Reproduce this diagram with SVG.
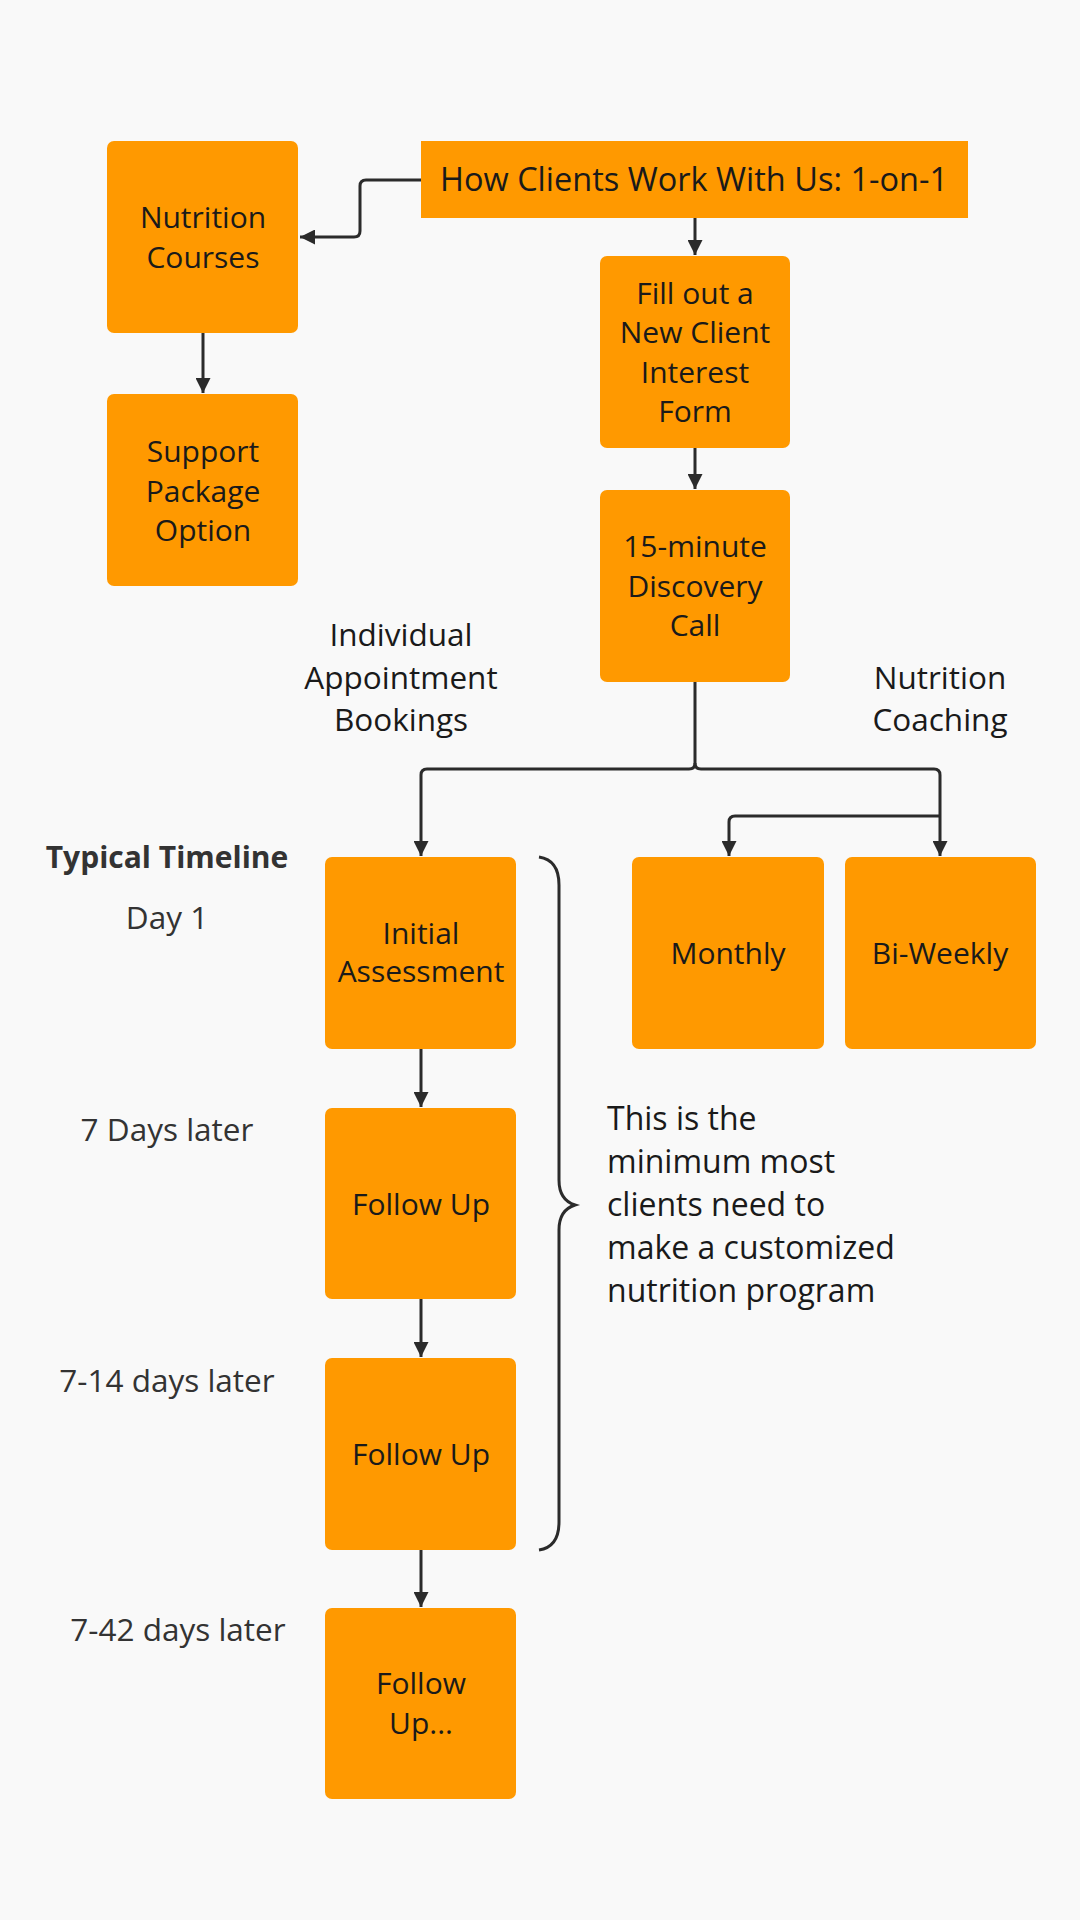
<svg xmlns="http://www.w3.org/2000/svg" width="1080" height="1920" viewBox="0 0 1080 1920">
<style>
.box{fill:#FF9900;}
.t{font-family:"Open Sans","Liberation Sans",sans-serif;font-size:30px;fill:#1a1a1a;text-anchor:middle;}
.h{font-family:"Open Sans","Liberation Sans",sans-serif;font-size:32.5px;fill:#1a1a1a;text-anchor:middle;}
.g{font-family:"Open Sans","Liberation Sans",sans-serif;font-size:31.5px;fill:#1a1a1a;text-anchor:middle;}
.l{font-family:"Open Sans","Liberation Sans",sans-serif;font-size:31.5px;fill:#333;text-anchor:middle;}
.n{font-family:"Open Sans","Liberation Sans",sans-serif;font-size:32px;fill:#1a1a1a;}
.c{fill:none;stroke:#2b2b2b;stroke-width:3;}
</style>
<defs>
<marker id="ah" viewBox="0 0 10 10" refX="10" refY="5" markerWidth="5" markerHeight="5" orient="auto" markerUnits="strokeWidth">
<path d="M0,0 L10,5 L0,10 Z" fill="#2b2b2b"/>
</marker>
</defs>
<rect width="1080" height="1920" fill="#f9f9f9"/>
<g id="connectors">
<path class="c" d="M421,180 H366 Q360,180 360,186 V231 Q360,237 354,237 H300" marker-end="url(#ah)"/>
<path class="c" d="M203,333 V393" marker-end="url(#ah)"/>
<path class="c" d="M695,218 V255" marker-end="url(#ah)"/>
<path class="c" d="M695,448 V489" marker-end="url(#ah)"/>
<path class="c" d="M695,682 V763 Q695,769 689,769 H427 Q421,769 421,775 V856" marker-end="url(#ah)"/>
<path class="c" d="M695,763 Q695,769 701,769 H934 Q940,769 940,775 V856" marker-end="url(#ah)"/>
<path class="c" d="M940,816 H735 Q729,816 729,822 V856" marker-end="url(#ah)"/>
<path class="c" d="M421,1049 V1107" marker-end="url(#ah)"/>
<path class="c" d="M421,1299 V1357" marker-end="url(#ah)"/>
<path class="c" d="M421,1550 V1607" marker-end="url(#ah)"/>
<path class="c" d="M539,857 Q559,860 559,885 V1180 Q559,1200 575,1205 Q559,1210 559,1230 V1522 Q559,1547 539,1550"/>
</g>
<g id="header"><rect class="box" x="421" y="141" width="547" height="77"/><text class="h" x="694" y="191">How Clients Work With Us: 1-on-1</text></g>
<g id="nutrition-courses"><rect class="box" x="107" y="141" width="191" height="192" rx="7"/><text class="t" x="203" y="228">Nutrition</text><text class="t" x="203" y="268">Courses</text></g>
<g id="support-package"><rect class="box" x="107" y="394" width="191" height="192" rx="7"/><text class="t" x="203" y="462">Support</text><text class="t" x="203" y="502">Package</text><text class="t" x="203" y="541">Option</text></g>
<g id="fill-out"><rect class="box" x="600" y="256" width="190" height="192" rx="7"/><text class="t" x="695" y="304">Fill out a</text><text class="t" x="695" y="343">New Client</text><text class="t" x="695" y="383">Interest</text><text class="t" x="695" y="422">Form</text></g>
<g id="discovery"><rect class="box" x="600" y="490" width="190" height="192" rx="7"/><text class="t" x="695" y="557">15-minute</text><text class="t" x="695" y="597">Discovery</text><text class="t" x="695" y="636">Call</text></g>
<g id="label-individual"><text class="g" x="401" y="646">Individual</text><text class="g" x="401" y="689">Appointment</text><text class="g" x="401" y="731">Bookings</text></g>
<g id="label-coaching"><text class="g" x="940" y="689">Nutrition</text><text class="g" x="940" y="731">Coaching</text></g>
<g id="initial"><rect class="box" x="325" y="857" width="191" height="192" rx="7"/><text class="t" x="421" y="944">Initial</text><text class="t" x="421" y="982">Assessment</text></g>
<g id="monthly"><rect class="box" x="632" y="857" width="192" height="192" rx="7"/><text class="t" x="728" y="964">Monthly</text></g>
<g id="biweekly"><rect class="box" x="845" y="857" width="191" height="192" rx="7"/><text class="t" x="940" y="964">Bi-Weekly</text></g>
<g id="follow1"><rect class="box" x="325" y="1108" width="191" height="191" rx="7"/><text class="t" x="421" y="1215">Follow Up</text></g>
<g id="follow2"><rect class="box" x="325" y="1358" width="191" height="192" rx="7"/><text class="t" x="421" y="1465">Follow Up</text></g>
<g id="follow3"><rect class="box" x="325" y="1608" width="191" height="191" rx="7"/><text class="t" x="421" y="1694">Follow</text><text class="t" x="421" y="1734">Up...</text></g>
<g id="timeline-labels">
<text class="l" x="167" y="868" style="font-weight:bold;font-size:30px">Typical Timeline</text>
<text class="l" x="167" y="929">Day 1</text>
<text class="l" x="167" y="1141">7 Days later</text>
<text class="l" x="167" y="1392">7-14 days later</text>
<text class="l" x="178" y="1641">7-42 days later</text>
</g>
<g id="bracket-note"><text class="n" x="607" y="1130">This is the</text><text class="n" x="607" y="1173">minimum most</text><text class="n" x="607" y="1216">clients need to</text><text class="n" x="607" y="1259">make a customized</text><text class="n" x="607" y="1302">nutrition program</text></g>
</svg>
